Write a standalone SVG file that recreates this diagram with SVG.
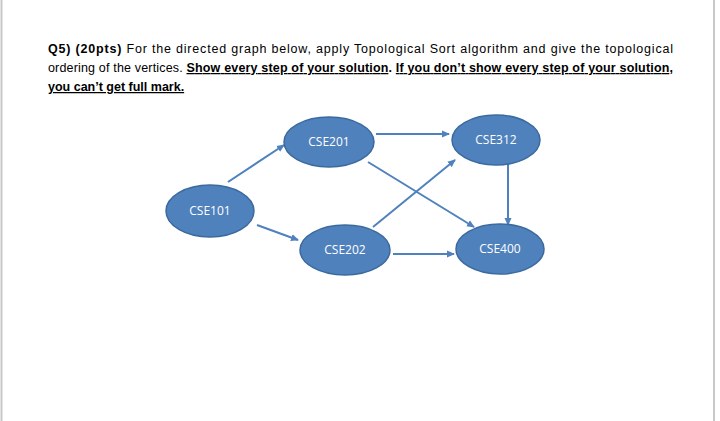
<svg xmlns="http://www.w3.org/2000/svg" width="720" height="421" viewBox="0 0 720 421">
<style>
.t{font-family:"Liberation Sans",Arial,sans-serif;font-size:12.5px;fill:#000}
.b{font-weight:bold}
.u{text-decoration:underline}
.n ellipse{fill:#4f81bd;stroke:#3b6a9e;stroke-width:1.5}
.n text{font-family:"Open Sans","Liberation Sans",sans-serif;font-size:12px;fill:#fff;text-anchor:middle}
.e line{stroke:#4f81bd;stroke-width:2}
</style>
<defs><marker id="a" markerWidth="8" markerHeight="8" refX="7" refY="4" orient="auto" markerUnits="userSpaceOnUse"><path d="M0,0.5 L8,4 L0,7.5 Z" fill="#4f81bd"/></marker></defs>
<rect x="0" y="0" width="720" height="421" fill="#fff"/>
<line x1="1.5" y1="0" x2="1.5" y2="421" stroke="#c8c8c8" stroke-width="2"/>
<line x1="714" y1="0" x2="714" y2="421" stroke="#c8c8c8" stroke-width="2"/>
<text class="t" x="48" y="53" textLength="625" lengthAdjust="spacing"><tspan class="b">Q5) (20pts)</tspan> For the directed graph below, apply Topological Sort algorithm and give the topological</text>
<text class="t" x="48" y="72" textLength="625" lengthAdjust="spacing">ordering of the vertices. <tspan class="b u">Show every step of your solution</tspan><tspan class="b">.</tspan> <tspan class="b u">If you don’t show every step of your solution,</tspan></text>
<text class="t b u" x="48" y="91">you can’t get full mark.</text>
<g class="e">
<line x1="228" y1="182" x2="284" y2="145" marker-end="url(#a)"/>
<line x1="376" y1="134" x2="449" y2="134" marker-end="url(#a)"/>
<line x1="257" y1="225" x2="298" y2="240" marker-end="url(#a)"/>
<line x1="368" y1="162" x2="474" y2="227" marker-end="url(#a)"/>
<line x1="373" y1="227" x2="455" y2="160" marker-end="url(#a)"/>
<line x1="393" y1="254" x2="454" y2="254" marker-end="url(#a)"/>
<line x1="508" y1="163" x2="508" y2="225" marker-end="url(#a)"/>
</g>
<g id="CSE201" class="n"><ellipse cx="329" cy="142" rx="45" ry="25"/><text x="329" y="146">CSE201</text></g>
<g id="CSE312" class="n"><ellipse cx="496" cy="140" rx="44" ry="25"/><text x="496" y="144">CSE312</text></g>
<g id="CSE101" class="n"><ellipse cx="210" cy="211" rx="44" ry="26"/><text x="210" y="215">CSE101</text></g>
<g id="CSE202" class="n"><ellipse cx="345" cy="250" rx="45" ry="25"/><text x="345" y="254">CSE202</text></g>
<g id="CSE400" class="n"><ellipse cx="500" cy="249" rx="44" ry="25"/><text x="500" y="253">CSE400</text></g>
</svg>
